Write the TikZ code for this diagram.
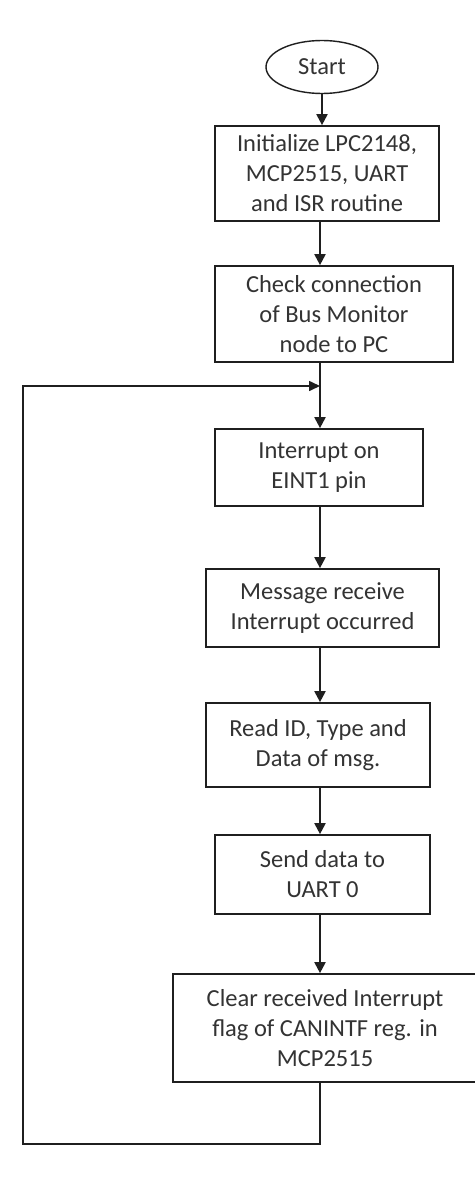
\documentclass[tikz,border=0pt]{standalone}
\usepackage{fontspec}
\setmainfont{Carlito}
\usetikzlibrary{shapes.geometric,arrows.meta}
\definecolor{ink}{gray}{0.12}
\definecolor{txt}{gray}{0.2}
\tikzset{
  x=1pt,y=1pt,
  flowbox/.style={draw=ink,line width=1.7pt,rectangle,inner sep=0pt,align=center,
    text=txt,font=\fontsize{24.5}{30}\selectfont},
  term/.style={draw=ink,line width=1.4pt,ellipse,inner sep=0pt,
    minimum width=112pt,minimum height=53pt,text=txt,font=\fontsize{24.5}{30}\selectfont},
  arr/.style={draw=ink,line width=2pt,-{Triangle[width=11pt,length=11pt]}},
  loopline/.style={draw=ink,line width=1.6pt,-{Triangle[width=10pt,length=11pt]}}
}
\begin{document}
\begin{tikzpicture}
\useasboundingbox (0,0) rectangle (474,-1185);
\fill[white] (0,0) rectangle (474,-1185);
\coordinate (spine) at (320,0);
\node[term] (start) at (322,-67) {Start};
\node[flowbox,minimum width=224pt,minimum height=95pt] (init) at (327,-173.5)
  {Initialize LPC2148,\\MCP2515, UART\\and ISR routine};
\node[flowbox,minimum width=238pt,minimum height=96pt] (check) at (334,-314)
  {Check connection\\of Bus Monitor\\node to PC};
\node[flowbox,minimum width=208pt,minimum height=77pt] (eint) at (319,-467.5)
  {Interrupt on\\EINT1 pin};
\node[flowbox,minimum width=233pt,minimum height=78pt] (msg) at (322.5,-608)
  {Message receive\\Interrupt occurred};
\node[flowbox,minimum width=224pt,minimum height=84pt] (read) at (318,-745)
  {Read ID, Type and\\Data of msg.};
\node[flowbox,minimum width=215pt,minimum height=79pt] (send) at (322.5,-874.5)
  {Send data to\\UART 0};
\node[flowbox,minimum width=304pt,minimum height=108pt] (clear) at (325,-1028)
  {Clear received Interrupt\\flag of CANINTF reg. in\\MCP2515};
\coordinate (entry) at (320,-386);
\coordinate (lb) at (23,-1144);
\coordinate (lt) at (23,-386);
\draw[arr] (start.south) -- (init.north -| start);
\draw[arr] (init.south -| spine) -- (check.north -| spine);
\draw[arr] (check.south -| spine) -- (eint.north -| spine);
\draw[arr] (eint.south -| spine) -- (msg.north -| spine);
\draw[arr] (msg.south -| spine) -- (read.north -| spine);
\draw[arr] (read.south -| spine) -- (send.north -| spine);
\draw[arr] (send.south -| spine) -- (clear.north -| spine);
\draw[loopline] (clear.south -| spine) -- (spine |- lb) -- (lb) -- (lt) -- (entry);
\end{tikzpicture}
\end{document}
